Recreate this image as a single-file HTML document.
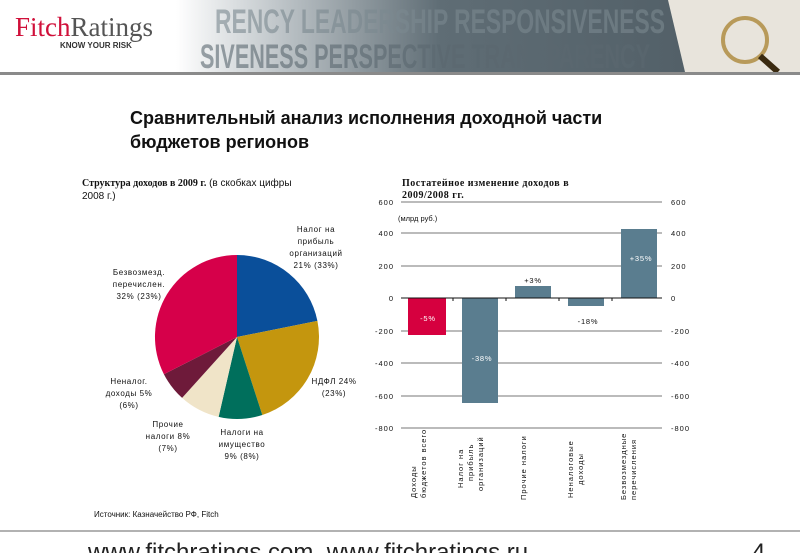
<!DOCTYPE html>
<html><head><meta charset="utf-8"><style>
html,body{margin:0;padding:0;background:#fff;}
svg{display:block;}
text{font-family:"Liberation Sans","DejaVu Sans",sans-serif;}
.serif{font-family:"Liberation Serif","DejaVu Serif",serif;}
</style></head><body>
<svg width="800" height="553" viewBox="0 0 800 553" xmlns="http://www.w3.org/2000/svg">
<defs>
<linearGradient id="bg" x1="0" x2="1" y1="0" y2="0">
<stop offset="0" stop-color="#fff"/>
<stop offset="0.22" stop-color="#fff"/>
<stop offset="0.36" stop-color="#b9c0c4"/>
<stop offset="0.55" stop-color="#5f6d75"/>
<stop offset="1" stop-color="#4d5a62"/>
</linearGradient>
</defs>
<rect x="0" y="0" width="800" height="72" fill="url(#bg)"/>
<g font-weight="bold" fill="#7b8990" opacity="0.6">
<text x="215" y="33" font-size="34" textLength="450" lengthAdjust="spacingAndGlyphs">RENCY LEADERSHIP RESPONSIVENESS</text>
<text x="200" y="68" font-size="34" textLength="450" lengthAdjust="spacingAndGlyphs" fill="#5b6870">SIVENESS PERSPECTIVE TRANSPARENCY</text>
</g>
<polygon points="668,0 800,0 800,72 685,72" fill="#e8e4dc"/>
<circle cx="745" cy="40" r="22" fill="none" stroke="#b89a5a" stroke-width="4"/>
<line x1="760" y1="56" x2="778" y2="72" stroke="#3a2a10" stroke-width="6"/>
<rect x="0" y="72" width="800" height="3" fill="#8a8a8a"/>
<text x="15" y="36" class="serif" font-size="27" fill="#d0103a">Fitch<tspan fill="#555">Ratings</tspan></text>
<text x="60" y="48" font-size="8" font-weight="bold" fill="#333">KNOW YOUR RISK</text>

<text x="130" y="124" font-size="18" font-weight="bold" fill="#111">Сравнительный анализ исполнения доходной части</text>
<text x="130" y="148" font-size="18" font-weight="bold" fill="#111">бюджетов регионов</text>

<text x="82" y="186" font-size="10" fill="#111"><tspan class="serif" font-weight="bold">Структура доходов в 2009 г.</tspan> (в скобках цифры</text>
<text x="82" y="199" font-size="10" fill="#111">2008 г.)</text>

<g stroke="none">
<path d="M237,337 L237,255 A82,82 0 0 1 317.4,320.9 Z" fill="#0a4f9a"/>
<path d="M237,337 L317.4,320.9 A82,82 0 0 1 262.3,415 Z" fill="#c4960e"/>
<path d="M237,337 L262.3,415 A82,82 0 0 1 218.6,416.9 Z" fill="#006f5c"/>
<path d="M237,337 L218.6,416.9 A82,82 0 0 1 182.1,397.9 Z" fill="#f0e4c8"/>
<path d="M237,337 L182.1,397.9 A82,82 0 0 1 163.9,374.2 Z" fill="#6e1a3a"/>
<path d="M237,337 L163.9,374.2 A82,82 0 0 1 237,255 Z" fill="#d6004a"/>
</g>
<g font-size="8" fill="#111" text-anchor="middle" letter-spacing="0.6">
<text x="316" y="232">Налог на</text><text x="316" y="244">прибыль</text><text x="316" y="256">организаций</text><text x="316" y="268">21% (33%)</text>
<text x="139" y="275">Безвозмезд.</text><text x="139" y="287">перечислен.</text><text x="139" y="299">32% (23%)</text>
<text x="334" y="384">НДФЛ 24%</text><text x="334" y="396">(23%)</text>
<text x="129" y="384">Неналог.</text><text x="129" y="396">доходы 5%</text><text x="129" y="408">(6%)</text>
<text x="168" y="427">Прочие</text><text x="168" y="439">налоги 8%</text><text x="168" y="451">(7%)</text>
<text x="242" y="435">Налоги на</text><text x="242" y="447">имущество</text><text x="242" y="459">9% (8%)</text>
</g>
<text x="94" y="517" font-size="8" fill="#111">Источник: Казначейство РФ, Fitch</text>

<text x="402" y="186" font-size="10" font-weight="bold" class="serif" fill="#111" letter-spacing="0.5">Постатейное изменение доходов в</text>
<text x="402" y="198" font-size="10" font-weight="bold" class="serif" fill="#111" letter-spacing="0.5">2009/2008 гг.</text>
<text x="398" y="221" font-size="7.5" fill="#111">(млрд руб.)</text>

<g stroke="#777" stroke-width="1">
<line x1="401" y1="202" x2="662" y2="202"/>
<line x1="401" y1="233" x2="662" y2="233"/>
<line x1="401" y1="266" x2="662" y2="266"/>
<line x1="401" y1="331" x2="662" y2="331"/>
<line x1="401" y1="363" x2="662" y2="363"/>
<line x1="401" y1="396" x2="662" y2="396"/>
<line x1="401" y1="428" x2="662" y2="428"/>
</g>
<rect x="408" y="298" width="38" height="37" fill="#d6003f"/>
<rect x="462" y="298" width="36" height="105" fill="#5a7d8f"/>
<rect x="515" y="286" width="36" height="12" fill="#5a7d8f"/>
<rect x="568" y="298" width="36" height="8" fill="#5a7d8f"/>
<rect x="621" y="229" width="36" height="69" fill="#5a7d8f"/>
<line x1="401" y1="298" x2="662" y2="298" stroke="#111" stroke-width="1"/>
<g stroke="#111"><line x1="453" y1="298" x2="453" y2="301"/><line x1="506" y1="298" x2="506" y2="301"/><line x1="559" y1="298" x2="559" y2="301"/><line x1="612" y1="298" x2="612" y2="301"/></g>
<g font-size="7.5" fill="#111" letter-spacing="1">
<g text-anchor="end">
<text x="394" y="205">600</text><text x="394" y="236">400</text><text x="394" y="269">200</text><text x="394" y="301">0</text>
<text x="394" y="334">-200</text><text x="394" y="366">-400</text><text x="394" y="399">-600</text><text x="394" y="431">-800</text>
</g>
<text x="671" y="205">600</text><text x="671" y="236">400</text><text x="671" y="269">200</text><text x="671" y="301">0</text>
<text x="671" y="334">-200</text><text x="671" y="366">-400</text><text x="671" y="399">-600</text><text x="671" y="431">-800</text>
</g>
<g font-size="7.5" text-anchor="middle" letter-spacing="0.8">
<text x="428" y="321" fill="#fff">-5%</text>
<text x="482" y="361" fill="#fff">-38%</text>
<text x="533" y="283" fill="#111">+3%</text>
<text x="588" y="324" fill="#111">-18%</text>
<text x="641" y="261" fill="#fff">+35%</text>
</g>
<g font-size="7.5" fill="#111" letter-spacing="1">
<text transform="translate(416,498) rotate(-90)">Доходы</text>
<text transform="translate(426,498) rotate(-90)">бюджетов всего</text>
<text transform="translate(463,488) rotate(-90)">Налог на</text>
<text transform="translate(473,481) rotate(-90)">прибыль</text>
<text transform="translate(483,491) rotate(-90)">организаций</text>
<text transform="translate(526,500) rotate(-90)">Прочие налоги</text>
<text transform="translate(573,498) rotate(-90)">Неналоговые</text>
<text transform="translate(583,485) rotate(-90)">доходы</text>
<text transform="translate(626,500) rotate(-90)">Безвозмездные</text>
<text transform="translate(636,500) rotate(-90)">перечисления</text>
</g>

<line x1="0" y1="531" x2="800" y2="531" stroke="#999" stroke-width="1.5"/>
<text x="88" y="560" font-size="24" fill="#222">www.fitchratings.com, www.fitchratings.ru</text>
<text x="752" y="560" font-size="24" fill="#222">4</text>
</svg>
</body></html>
